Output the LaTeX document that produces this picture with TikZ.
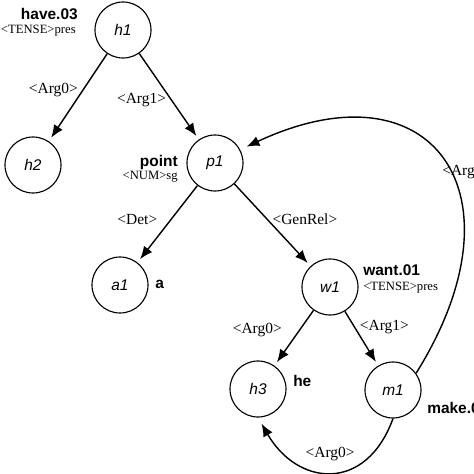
\documentclass[tikz,border=0pt]{standalone}
\usepackage{fontspec}
\setmainfont{Liberation Serif}
\setsansfont{Liberation Sans}
\usetikzlibrary{arrows.meta, positioning}

\begin{document}
\begin{tikzpicture}[
    x=0.025cm, y=0.025cm,
    var/.style={circle, draw, line width=0.8pt, minimum size=1.4cm, inner sep=0pt, font=\sffamily\itshape\fontsize{11}{13}\selectfont},
    concept/.style={font=\sffamily\bfseries\fontsize{11}{13}\selectfont, inner sep=0pt},
    attr/.style={font=\fontsize{9}{11}\selectfont, inner sep=0pt},
    role/.style={font=\fontsize{11}{13}\selectfont},
    rel/.style={-{Latex[length=3.2mm,width=2.6mm]}, line width=1pt, shorten >=3pt}
]
\useasboundingbox (0,0) rectangle (474,-474);
\clip (0,0) rectangle (474,-474);

% variables
\node[var] (h1) at (123,-30) {h1};
\node[var] (h2) at (33,-165) {h2};
\node[var] (p1) at (215,-163) {p1};
\node[var] (a1) at (120,-285) {a1};
\node[var] (w1) at (330,-287) {w1};
\node[var] (h3) at (258,-389) {h3};
\node[var] (m1) at (393,-390) {m1};

% concepts and attributes
\node[concept, anchor=base east] (h1c) at (78,-19) {have.03};
\node[attr, anchor=base east] (h1t) at (76,-33) {<TENSE>pres};
\node[concept, anchor=base east] (p1c) at (178,-166) {point};
\node[attr, anchor=base east] (p1t) at (178,-179) {<NUM>sg};
\node[concept, anchor=base west] (a1c) at (155,-288) {a};
\node[concept, anchor=base west] (w1c) at (363,-275) {want.01};
\node[attr, anchor=base west] (w1t) at (363,-290) {<TENSE>pres};
\node[concept, anchor=base west] (h3c) at (293,-386) {he};
\node[concept, anchor=base west] (m1c) at (427,-413) {make.01};

% relations
\draw[rel] (h1) -- node[role, left, pos=0.41] {<Arg0>} (h2);
\draw[rel] (h1) -- node[role, left, pos=0.54] {<Arg1>} (p1);
\draw[rel] (p1) -- node[role, left=6pt, pos=0.44] {<Det>} (a1);
\draw[rel] (p1) -- node[role, right, pos=0.43] {<GenRel>} (w1);
\draw[rel] (w1) -- node[role, left=9pt, pos=0.35] {<Arg0>} (h3);
\draw[rel] (w1) -- node[role, right, pos=0.29] {<Arg1>} (m1);
\draw[rel, shorten >=5pt] (m1.south) to[out=-110, in=-60, looseness=1.5]
    node[role, above=4pt] {<Arg0>} (h3.south);
\draw[rel, shorten >=5pt] (m1.36) to[out=58, in=25, looseness=1.9] (p1.28);
\node[role, anchor=west, inner sep=0pt] (m1p1) at (442,-172) {<Arg1>};
\end{tikzpicture}
\end{document}
